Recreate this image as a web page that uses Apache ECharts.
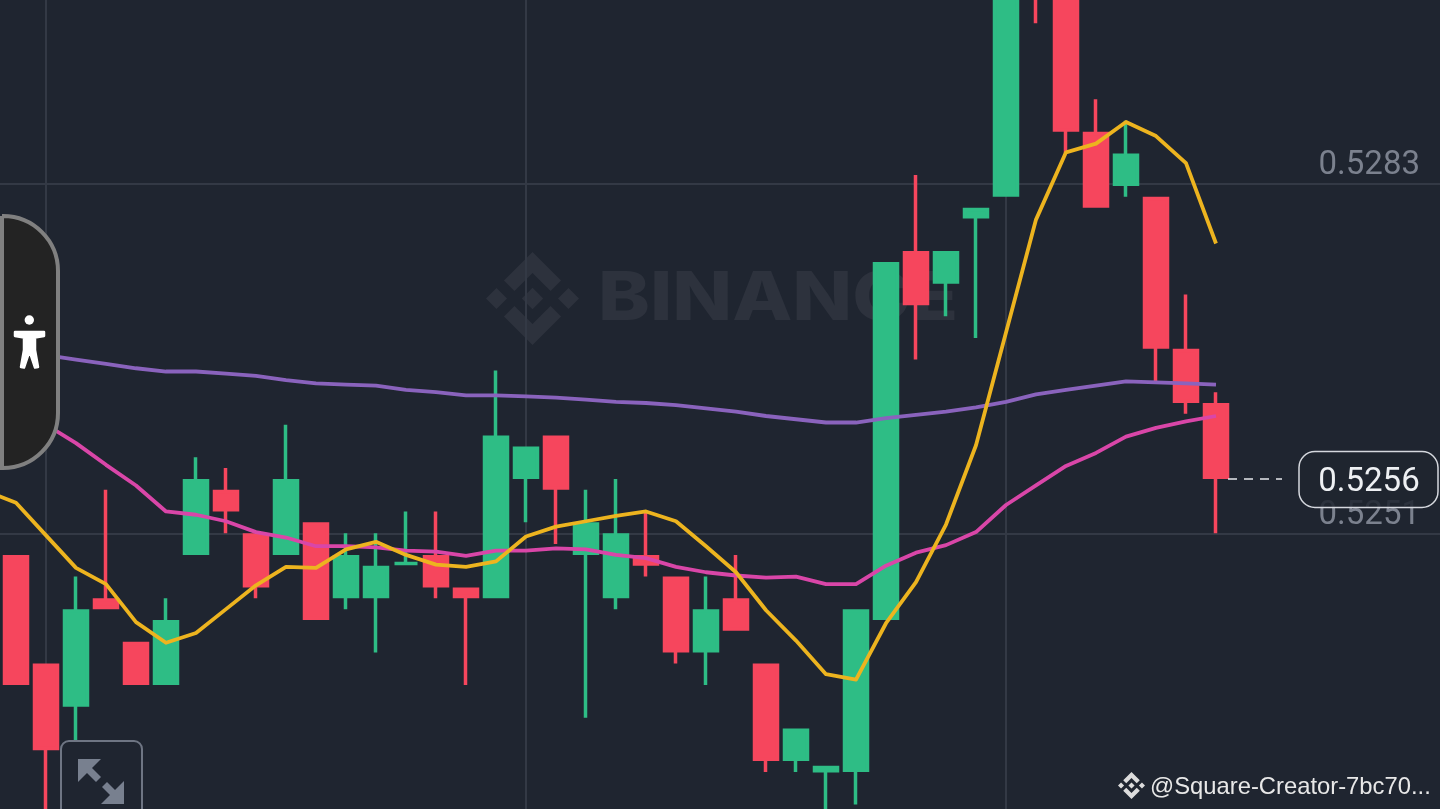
<!DOCTYPE html>
<html>
<head>
<meta charset="utf-8">
<title>chart</title>
<style>
  html, body { margin: 0; padding: 0; background: #1f2530; }
  #main { width: 1440px; height: 809px; }
</style>
<script src="https://cdn.jsdelivr.net/npm/echarts@6/dist/echarts.min.js"></script>
</head>
<body>
<div id="main"></div>
<script>
// one slot per candle, first slot is off the left edge of the picture
var categories = [];
for (var c = 0; c < 49; c++) { categories.push('k' + c); }

var opens = [null, .5249, .5239, .5235, .5245, .5241, .5237, .5249, .5255, .5251, .5249, .5252, .5245, .5245, .52482, .5249, .5246,
  .5245, .5256, .5260, .5249, .5245, .5249, .5247, .5240, .5245, .5239, .5230, .52291, .5229, .5243, .5277, .5274, .5280,
  .5282, .5306, .5303, .5288, .5283, .5282, .5268, .5263];
var closes = [null, .5237, .5231, .5244, .5244, .5237, .5243, .5256, .5253, .5246, .5256, .5243, .5249, .5248, .52482, .5246, .5245,
  .5260, .5259, .5255, .5252, .5251, .5248, .5240, .5244, .5242, .5230, .5233, .52294, .5244, .5276, .5272, .5277, .5281,
  .5306, .5303, .5288, .5281, .5286, .5268, .5263, .5256];
var lows = [null, .5237, .5223, .5231, .5244, .5237, .5237, .5249, .5251, .5245, .5249, .5243, .5244, .5240, .52482, .5245, .5237,
  .5245, .5252, .5250, .5234, .5244, .5247, .5239, .5237, .5242, .5229, .5229, .5223, .5226, .5243, .5267, .5271, .5269,
  .5282, .5298, .5286, .5281, .5282, .5265, .5262, .5251];
var highs = [null, .5249, .5239, .5247, .5255, .5241, .5245, .5258, .5257, .5251, .5261, .5252, .5251, .5251, .5253, .5253, .5246,
  .5266, .5259, .5260, .5255, .5256, .5253, .5247, .5247, .5249, .5239, .5233, .52294, .5244, .5276, .5284, .5277, .5281,
  .5308, .5309, .5303, .5291, .5289, .5282, .5273, .5264];

var ma7 = [.52549, .52538, .52508, .52478, .52463, .52428, .52409, .52418, .52440, .52462, .52479, .52478, .52495, .52502, .52490, .52481, .52479,
  .52484, .52507, .52516, .52521, .52526, .52530, .52521, .52498, .52474, .52439, .52411, .52380, .52375, .52427, .52465, .52518, .52591,
  .52695, .52799, .52861, .52869, .52889, .52876, .52851, .52777];
var ma25 = [null, .52628, .52610, .52593, .52573, .52554, .52530, .52527, .52521, .52511, .52506, .52498, .52498, .52497, .52494, .52493, .52489,
  .52494, .52494, .52496, .52495, .52490, .52487, .52479, .52474, .52471, .52469, .52470, .52463, .52463, .52480, .52492, .52499, .52511,
  .52536, .52554, .52572, .52584, .52599, .52607, .52613, .52618];
var ma99 = [null, .52677, .52674, .52670, .52666, .52662, .52659, .52659, .52657, .52655, .52651, .52648, .52647, .52646, .52642, .52640, .52637,
  .52637, .52636, .52635, .52633, .52631, .52630, .52628, .52625, .52622, .52618, .52615, .52612, .52612, .52616, .52619, .52622, .52626,
  .52631, .52638, .52642, .52646, .52650, .52649, .52648, .52647];

var tickValues = [0.528318, 0.525093];
var lastPrice = '0.5256';

var BG = '#1f2530';
var LOGO_SIZE = 126.61;
echarts.graphic.registerShape('binanceLogo', echarts.graphic.extendPath('M38.73 53.2l24.59-24.58 24.6 24.6 14.3-14.31L63.32 0 24.42 38.9l14.31 14.3zM0 63.31L14.3 49l14.31 14.31-14.31 14.3zM38.73 73.41l24.59 24.59 24.6-24.6 14.31 14.29-38.9 38.91-38.91-38.88-.02-.02 14.33-14.29zM98 63.31L112.3 49l14.31 14.3-14.31 14.32zM77.83 63.3L63.32 48.78 52.59 59.51l-1.24 1.23-2.54 2.54 14.51 14.5 14.51-14.47z', {}));

var yMin = 0.522558, yMax = 0.530014;
var BORDER = 3.5;
// the candle border straddles the body edge, pull the body in by half of it
var halfBorder = (yMax - yMin) / 809 * BORDER / 2;

var candleData = [];
for (var i = 0; i < opens.length; i++) {
  if (opens[i] === null) { candleData.push('-'); continue; }
  var o = opens[i], cl = closes[i];
  if (Math.abs(o - cl) > 0.00005) {
    o += opens[i] > closes[i] ? -halfBorder : halfBorder;
    cl += opens[i] > closes[i] ? halfBorder : -halfBorder;
  }
  candleData.push([o, cl, lows[i], highs[i]]);
}

function maSeries(name, data, color) {
  return {
    name: name,
    type: 'line',
    data: data,
    symbol: 'none',
    silent: true,
    lineStyle: { color: color, width: 3.8, join: 'round' },
    z: 5
  };
}

var myChart = echarts.init(document.getElementById('main'));

var option = {
  animation: false,
  backgroundColor: BG,
  grid: { left: -29, width: 1470, top: 0, height: 809, outerBoundsMode: 'none' },
  xAxis: {
    type: 'category',
    data: categories,
    axisLine: { show: false },
    axisTick: { show: false },
    axisLabel: { show: false },
    splitLine: {
      show: true,
      alignWithLabel: true,
      interval: function (index) { return index % 16 === 2; },
      lineStyle: { color: '#333945', width: 2 }
    }
  },
  yAxis: {
    type: 'value',
    position: 'right',
    min: yMin,
    max: yMax,
    axisLine: { show: false },
    axisTick: { show: false, customValues: tickValues },
    axisLabel: {
      inside: true,
      margin: 21,
      customValues: tickValues,
      color: '#7b818e',
      fontFamily: 'Roboto',
      fontSize: 33,
      verticalAlign: 'bottom',
      padding: [0, 0, 2, 0],
      formatter: function (v) { return v.toFixed(4); }
    },
    splitLine: { show: true, lineStyle: { color: '#333945', width: 2 } }
  },
  series: [
    {
      name: 'kline',
      type: 'candlestick',
      data: candleData,
      barWidth: 23.5,
      silent: true,
      clip: true,
      itemStyle: {
        color: '#2ebd85',
        color0: '#f6465d',
        borderColor: '#2ebd85',
        borderColor0: '#f6465d',
        borderWidth: BORDER
      },
      z: 3
    },
    maSeries('MA99', ma99, '#8a63bd'),
    maSeries('MA25', ma25, '#d946a8'),
    maSeries('MA7', ma7, '#edb41f')
  ]
};
myChart.setOption(option);

// overlays that sit on the chart: watermark, price tag and the page buttons
var lastY = myChart.convertToPixel({ yAxisIndex: 0 }, parseFloat(lastPrice));
var wmScale = 93 / LOGO_SIZE;
var creditScale = 27 / LOGO_SIZE;
myChart.setOption({
  graphic: [
    { type: 'binanceLogo', z: -1, silent: true, x: 486, y: 252, scaleX: wmScale, scaleY: wmScale, style: { fill: '#2d323d' } },
    { type: 'text', z: -1, silent: true, x: 598, y: 300, scaleX: 1.15, style: { text: 'BINANCE', fill: '#2d323d', font: '800 68px Inter', textVerticalAlign: 'middle' } },

    { type: 'line', z: 20, silent: true, shape: { x1: 1228, y1: lastY, x2: 1282, y2: lastY }, style: { stroke: '#e6e8ec', lineWidth: 1.5, lineDash: [9, 7] } },
    { type: 'rect', z: 20, silent: true, shape: { x: 1299, y: 451.5, width: 139, height: 56, r: 16 }, style: { fill: 'rgba(31,37,48,0.86)', stroke: '#d5d8de', lineWidth: 1.5 } },
    { type: 'text', z: 21, silent: true, x: 1369, y: 483, style: { text: lastPrice, fill: '#eef0f3', font: '33px Roboto', textAlign: 'center', textVerticalAlign: 'middle' } },

    // accessibility tab
    { type: 'rect', z: 20, silent: true, shape: { x: 2, y: 216, width: 56, height: 252, r: [0, 55, 55, 0] }, style: { fill: '#232323', stroke: '#808080', lineWidth: 4 } },
    { type: 'circle', z: 21, silent: true, shape: { cx: 29.3, cy: 320, r: 4.7 }, style: { fill: '#fff' } },
    { type: 'polygon', z: 21, silent: true, shape: { points: [[15, 332], [44, 332], [44, 336], [35, 337.5], [35, 350], [38, 367], [35, 367.5], [29.5, 351], [24, 367.5], [21, 367], [24, 350], [24, 337.5], [15, 336]] }, style: { fill: '#fff', stroke: '#fff', lineWidth: 2.5, lineJoin: 'round' } },

    // expand button
    { type: 'rect', z: 20, silent: true, shape: { x: 61, y: 741, width: 81, height: 90, r: 8 }, style: { fill: BG, stroke: '#6e7583', lineWidth: 2 } },
    { type: 'polygon', z: 21, silent: true, shape: { points: [[78, 759], [101, 759], [78, 782]] }, style: { fill: '#78808f' } },
    { type: 'polygon', z: 21, silent: true, shape: { points: [[90, 766], [101, 777], [96, 782], [85, 771]] }, style: { fill: '#78808f' } },
    { type: 'polygon', z: 21, silent: true, shape: { points: [[124, 781], [124, 804], [101, 804]] }, style: { fill: '#78808f' } },
    { type: 'polygon', z: 21, silent: true, shape: { points: [[107, 782], [118, 793], [113, 798], [102, 787]] }, style: { fill: '#78808f' } },

    // credit
    { type: 'binanceLogo', z: 21, silent: true, x: 1118, y: 772, scaleX: creditScale, scaleY: creditScale, style: { fill: '#dcdcdc' } },
    { type: 'text', z: 21, silent: true, x: 1150, y: 787, style: { text: '@Square-Creator-7bc70...', fill: '#e8e8e8', font: '23.8px "Liberation Sans"', textVerticalAlign: 'middle' } }
  ]
});

window.addEventListener('resize', function () { myChart.resize(); });
</script>
</body>
</html>
